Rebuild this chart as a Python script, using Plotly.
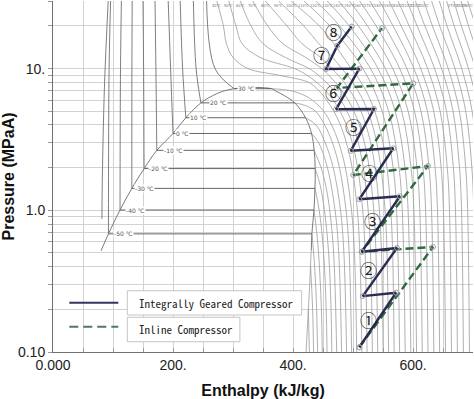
import math
import plotly.graph_objects as go

# ---------------- data (read / estimated from the picture) ----------------
# CO2 saturation dome: pressure (MPa), enthalpy (kJ/kg)
DOME_P = [0.518, 0.682, 1.005, 1.428, 1.970, 2.649, 3.485, 4.502, 5.729, 6.434, 6.920, 7.214, 7.377]
DOME_HL = [80.0, 92.4, 111.7, 131.4, 151.8, 173.0, 200.0, 221.4, 246.5, 266.0, 283.0, 302.0, 332.0]
DOME_HV = [430.4, 431.5, 434.9, 436.6, 437.0, 435.3, 430.9, 421.0, 403.0, 386.0, 372.0, 364.0, 332.0]

# sublimation line (vapour side below triple point) and melting line
SUB_P = [0.518, 0.410, 0.290, 0.200, 0.100]
SUB_H = [430.4, 429.2, 427.6, 425.6, 421.8]
MELT_P = [0.87, 2.0, 8.0, 30.0]
MELT_H = [81.5, 82.5, 86.0, 92.0]

# isotherms crossing the two-phase region
SAT_T = [-50, -40, -30, -20, -10, 0, 10, 20, 30]
SAT_P = [0.682, 1.005, 1.428, 1.970, 2.649, 3.485, 4.502, 5.729, 7.214]
SAT_HL = [92.4, 111.7, 131.4, 151.8, 173.0, 200.0, 221.4, 246.5, 302.0]
SAT_HV = [431.5, 434.9, 436.6, 437.0, 435.3, 430.9, 421.0, 403.0, 364.0]
SAT_LABEL_H = [117, 137, 153, 175, 200, 215, 242, 275, 323]

# liquid-region isotherms (h at 10 MPa and 30 MPa)
LIQ_P = [10.0, 30.0]
LIQ_H10 = [93.5, 112.5, 131.5, 151.0, 171.5, 196.0, 216.0, 238.5, 270.0]
LIQ_H30 = [96.0, 114.0, 132.0, 150.0, 170.0, 192.0, 212.0, 234.0, 256.0]

# vapour-region isotherms below the critical temperature
VAP_T = [-70, -60, -50, -40, -30, -20, -10, 0, 10, 20, 30]
VAP_P = [
    [0.20, 0.10],
    [0.41, 0.20, 0.10],
    [0.682, 0.5, 0.3, 0.2, 0.1],
    [1.005, 0.8, 0.5, 0.2, 0.1],
    [1.428, 1.0, 0.5, 0.2, 0.1],
    [1.970, 1.5, 1.0, 0.5, 0.2, 0.1],
    [2.649, 2.0, 1.5, 1.0, 0.5, 0.1],
    [3.485, 3.0, 2.0, 1.0, 0.5, 0.1],
    [4.502, 4.0, 3.0, 2.0, 1.0, 0.5, 0.1],
    [5.729, 5.5, 5.0, 4.0, 3.0, 2.0, 1.0, 0.5, 0.1],
    [7.214, 7.0, 6.5, 6.0, 5.0, 4.0, 3.0, 2.0, 1.0, 0.5, 0.1],
]
VAP_H = [
    [425.6, 427.3],
    [429.2, 432.7, 434.3],
    [431.5, 434.4, 437.7, 439.4, 441.0],
    [434.9, 438.0, 442.6, 447.3, 448.8],
    [436.6, 443.7, 451.0, 455.3, 456.7],
    [437.0, 445.3, 452.4, 459.4, 463.4, 464.7],
    [435.3, 446.8, 454.5, 461.2, 467.7, 472.8],
    [430.9, 442.6, 457.3, 470.1, 476.2, 481.0],
    [421.0, 438.5, 453.6, 467.0, 479.2, 484.8, 489.3],
    [403.0, 420.0, 437.5, 452.8, 465.7, 477.4, 488.4, 493.6, 497.7],
    [364.0, 395.0, 418.0, 432.0, 451.3, 464.4, 476.2, 487.2, 497.5, 502.4, 506.2],
]

# supercritical isotherms, 40-100 C
SCA_T = [40, 50, 60, 70, 80, 90, 100]
SCA_P = [0.1, 0.5, 1, 2, 3, 4, 5, 6, 7, 8, 9, 10, 12, 15, 20, 30]
SCA_H = [
    [514.8, 511.4, 507.2, 498.5, 489.0, 479.0, 468.0, 456.0, 443.0, 426.0, 375.0, 325.0, 300.0, 289.0, 284.0, 273.0],
    [523.5, 520.2, 516.2, 507.7, 498.7, 489.0, 478.5, 467.0, 454.0, 439.5, 423.0, 403.0, 345.0, 315.0, 305.0, 293.0],
    [532.3, 529.2, 525.3, 517.2, 508.8, 499.8, 490.0, 479.5, 468.0, 455.5, 442.0, 427.0, 387.0, 350.0, 330.0, 312.0],
    [541.2, 538.3, 534.6, 527.0, 519.0, 510.6, 501.6, 492.0, 481.5, 470.5, 459.5, 448.0, 421.0, 383.0, 358.0, 333.0],
    [550.2, 547.5, 544.0, 536.8, 529.4, 521.5, 513.3, 504.5, 495.0, 485.5, 475.0, 465.0, 446.0, 415.0, 390.0, 354.0],
    [559.3, 556.7, 553.4, 546.6, 539.6, 532.3, 524.7, 516.7, 508.2, 499.5, 490.5, 481.5, 466.0, 443.0, 418.0, 376.0],
    [568.5, 566.1, 563.0, 556.6, 550.0, 543.2, 536.2, 529.0, 521.5, 513.5, 505.5, 497.0, 484.0, 468.0, 444.0, 397.0],
]

# supercritical isotherms, 110-300 C
SCB_T = [110, 120, 130, 140, 150, 160, 170, 180, 190, 200, 210, 220, 230, 240, 250, 260, 270, 280, 290, 300]
SCB_P = [0.1, 1, 2, 5, 10, 20, 30]
SCB_H = [
    [577.7, 572.6, 566.9, 548.6, 516.7, 461.6, 418.0],
    [587.0, 582.1, 576.7, 559.5, 529.2, 477.8, 438.0],
    [596.4, 591.8, 586.7, 570.4, 541.8, 493.7, 457.0],
    [605.9, 601.5, 596.7, 581.2, 554.0, 509.1, 476.0],
    [615.4, 611.3, 606.7, 591.9, 566.2, 524.2, 494.0],
    [625.0, 621.0, 616.6, 602.6, 577.9, 538.5, 511.0],
    [634.7, 630.9, 626.7, 613.3, 589.8, 552.8, 528.0],
    [644.4, 640.8, 636.8, 624.0, 601.6, 566.8, 544.0],
    [654.2, 650.7, 646.9, 634.6, 613.0, 580.3, 560.0],
    [664.1, 660.8, 657.1, 645.2, 624.5, 593.6, 575.0],
    [674.0, 670.8, 667.3, 655.9, 636.0, 606.9, 590.0],
    [684.0, 680.9, 677.5, 666.7, 647.6, 619.8, 604.0],
    [694.1, 691.1, 687.8, 677.3, 658.8, 632.4, 618.0],
    [704.2, 701.3, 698.1, 687.9, 670.0, 644.5, 631.0],
    [714.4, 711.6, 708.5, 698.6, 681.2, 656.7, 644.0],
    [724.6, 721.9, 718.9, 709.3, 692.5, 668.6, 656.0],
    [734.9, 732.3, 729.4, 720.1, 703.9, 680.7, 668.0],
    [745.2, 742.7, 739.9, 730.9, 715.2, 692.5, 680.0],
    [755.6, 753.2, 750.5, 741.8, 726.7, 704.3, 691.0],
    [766.0, 763.7, 761.1, 752.7, 738.2, 716.1, 702.0],
]
TOP_LABEL_T = [40, 50, 60, 70, 80, 90, 100, 110, 120, 130, 140, 150, 160, 170, 180,
               190, 200, 210, 220, 230, 270, 280, 290]

# compression paths
IG_H = [510.5, 571.7, 516.2, 573.3, 514.5, 578.3, 510.5, 567.2, 496.2, 535.0, 471.7, 510.5, 455.0, 473.8, 497.8]
IG_P = [0.108, 0.262, 0.248, 0.542, 0.510, 1.256, 1.197, 2.74, 2.63, 5.19, 5.16, 10.0, 9.93, 14.5, 19.8]
IL_H = [510.5, 633.3, 514.5, 625.0, 500.5, 600.5, 473.3, 548.3]
IL_P = [0.108, 0.551, 0.510, 2.054, 1.775, 7.87, 7.30, 19.3]

STAGE_TEXT = ["①", "②", "③", "④", "⑤", "⑥", "⑦", "⑧"]
STAGE_H = [525.5, 525.5, 532.2, 526.7, 500.5, 467.2, 447.8, 467.2]
STAGE_P = [0.170, 0.384, 0.845, 1.843, 3.89, 6.80, 12.62, 18.41]

LEGEND_NAMES = ["Integrally Geared Compressor", "Inline Compressor"]

X_TICKS = [0, 50, 100, 150, 200, 250, 300, 350, 400, 450, 500, 550, 600, 650, 700]
X_TICKTEXT = ["0.000", "", "", "", "200.", "", "", "", "400.", "", "", "", "600.", "", ""]
Y_TICKS = [0.1, 0.2, 0.3, 0.4, 0.5, 0.6, 0.7, 0.8, 0.9, 1, 2, 3, 4, 5, 6, 7, 8, 9, 10, 20, 30]
Y_TICKTEXT = ["0.10", "", "", "", "", "", "", "", "", "1.0", "", "", "", "", "", "", "", "", "10.", "", ""]

# ---------------- styling ----------------
GRID = "#d2d2d2"
ISO = "#9c9c9c"
LIQ = "#707070"
NAVY = "#2a2c52"
GREEN = "#2f6a40"
FONT = "Liberation Sans, Arial, sans-serif"

fig = go.Figure()


def line(h, p, color, width, shape="spline", dash=None):
    fig.add_trace(go.Scatter(
        x=h, y=p, mode="lines", hoverinfo="skip", showlegend=False,
        line=dict(color=color, width=width, shape=shape, dash=dash,
                  smoothing=1.0 if shape == "spline" else None)))


# background isotherms
for ph, hh in zip(VAP_P, VAP_H):
    line(hh, ph, ISO, 0.8)
for hh in SCA_H:
    line(hh, SCA_P, ISO, 0.8)
for hh in SCB_H:
    line(hh, SCB_P, ISO, 0.8)
for i in range(len(SAT_T)):
    line([SAT_HL[i], LIQ_H10[i], LIQ_H30[i]], [SAT_P[i]] + LIQ_P, LIQ, 0.9)
line(MELT_H, MELT_P, LIQ, 0.9)
line(SUB_H, SUB_P, ISO, 0.8)

# dome
line(DOME_HL, DOME_P, "#7a7a7a", 1.0)
line(DOME_HV, DOME_P, "#7a7a7a", 1.0)

# two-phase isotherms
for i in range(len(SAT_T)):
    line([SAT_HL[i], SAT_HV[i]], [SAT_P[i], SAT_P[i]], "#555555", 0.9, shape="linear")

# compression paths
fig.add_trace(go.Scatter(x=IL_H, y=IL_P, mode="lines", hoverinfo="skip", showlegend=False,
                         line=dict(color=GREEN, width=2.4, dash="8px,4px")))
fig.add_trace(go.Scatter(x=IG_H, y=IG_P, mode="lines", hoverinfo="skip", showlegend=False,
                         line=dict(color=NAVY, width=2.4)))
fig.add_trace(go.Scatter(x=IG_H + IL_H, y=IG_P + IL_P, mode="markers", hoverinfo="skip",
                         showlegend=False,
                         marker=dict(symbol="circle-open", size=5, color="#a0a0a0",
                                     line=dict(width=1))))

ann = []
for i, t in enumerate(SAT_T):
    ann.append(dict(x=SAT_LABEL_H[i], y=math.log10(SAT_P[i]), xref="x", yref="y",
                    text=f"{t} ℃", showarrow=False, bgcolor="white", borderpad=0,
                    font=dict(size=6, color="#555", family="DejaVu Sans")))

top_h = {}
for t, hh in zip(SCA_T, SCA_H):
    top_h[t] = hh[-1]
for t, hh in zip(SCB_T, SCB_H):
    top_h[t] = hh[-1]
for t in TOP_LABEL_T:
    ann.append(dict(x=top_h[t], y=0.999, xref="x", yref="paper", yanchor="top",
                    text=f"{t}℃", showarrow=False,
                    font=dict(size=4, color="#777",
                              family="DejaVu Sans Condensed, DejaVu Sans")))

for s, h, p in zip(STAGE_TEXT, STAGE_H, STAGE_P):
    ann.append(dict(x=h, y=math.log10(p), xref="x", yref="y", text=s, showarrow=False,
                    font=dict(size=17, color="#1e1e1e", family="Noto Sans CJK JP")))

# legend (drawn by hand, like the original)
shapes = [
    dict(type="rect", xref="paper", yref="paper", x0=0.177, x1=0.592, y0=0.1054, y1=0.1746,
         fillcolor="white", line=dict(color="#c6c6c6", width=1), layer="above"),
    dict(type="rect", xref="paper", yref="paper", x0=0.177, x1=0.445, y0=0.0293, y1=0.0989,
         fillcolor="white", line=dict(color="#c6c6c6", width=1), layer="above"),
    dict(type="line", xref="paper", yref="paper", x0=0.0388, x1=0.1555, y0=0.1405, y1=0.1405,
         line=dict(color="#34365c", width=2), layer="above"),
    dict(type="line", xref="paper", yref="paper", x0=0.0388, x1=0.1555, y0=0.0721, y1=0.0721,
         line=dict(color="#4f7a5e", width=2, dash="9px,5px"), layer="above"),
]
for name, yp in zip(LEGEND_NAMES, [0.1405, 0.0647]):
    ann.append(dict(x=0.199, y=yp, xref="paper", yref="paper", xanchor="left", yanchor="middle",
                    text=name, showarrow=False,
                    font=dict(size=11, color="#222",
                              family="Noto Sans Mono CJK JP, Liberation Mono, monospace")))

fig.update_layout(
    width=474, height=399,
    margin=dict(l=53, r=1, t=1, b=47),
    paper_bgcolor="white", plot_bgcolor="white",
    annotations=ann, shapes=shapes,
    xaxis=dict(range=[0, 700], tickvals=X_TICKS, ticktext=X_TICKTEXT,
               showgrid=True, gridcolor=GRID, gridwidth=1, zeroline=False,
               showline=True, linecolor="#707070", linewidth=1,
               ticks="inside", ticklen=4, tickcolor="#999",
               tickfont=dict(size=14, color="#222", family=FONT),
               title=dict(text="<b>Enthalpy (kJ/kg)</b>", standoff=13,
                          font=dict(size=16, color="#111", family=FONT)),
               automargin=False),
    yaxis=dict(type="log", range=[-1, math.log10(30)], tickvals=Y_TICKS, ticktext=Y_TICKTEXT,
               showgrid=True, gridcolor=GRID, gridwidth=1, zeroline=False,
               showline=True, linecolor="#707070", linewidth=1,
               ticks="outside", ticklen=4, tickcolor="#999",
               tickfont=dict(size=14, color="#222", family=FONT),
               title=dict(text="<b>Pressure (MPaA)</b>", standoff=2,
                          font=dict(size=16, color="#111", family=FONT)),
               automargin=False),
)

fig.write_html("out.html", config={"displayModeBar": False},
               post_script="document.body.style.margin='0';document.body.style.overflow='hidden';")
